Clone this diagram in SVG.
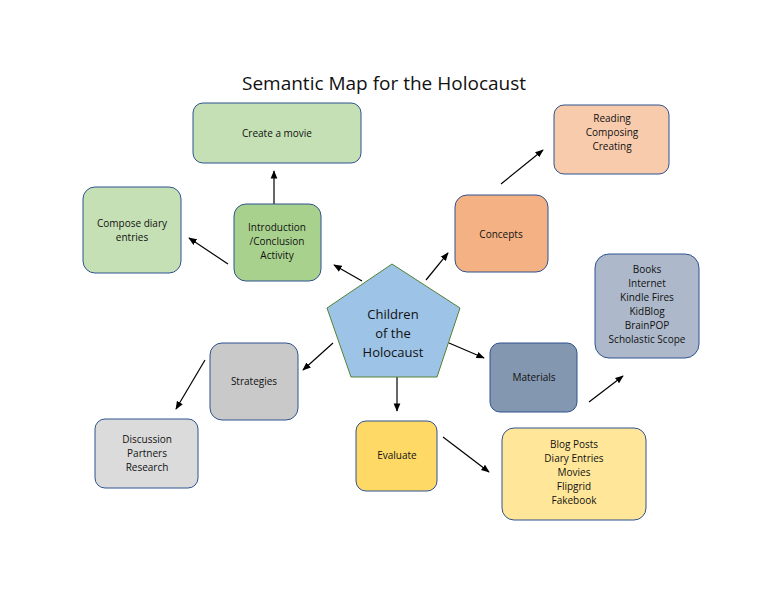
<svg xmlns="http://www.w3.org/2000/svg" width="768" height="594" viewBox="0 0 768 594">
<defs>
<marker id="a" viewBox="0 0 10 10" refX="9" refY="5" markerWidth="7" markerHeight="7" orient="auto-start-reverse"><path d="M0,1 L10,5 L0,9 z" fill="#000"/></marker>
<style>
.b{stroke:#2F528F;stroke-width:1}
.t{font-family:"Open Sans","Liberation Sans",sans-serif;font-size:10px;text-anchor:middle;fill:#111}
.c line{stroke:#000;stroke-width:1.2;marker-end:url(#a)}
</style>
</defs>
<rect width="768" height="594" fill="#fff"/>
<text x="384" y="90" style="font-family:'Open Sans','Liberation Sans',sans-serif;font-size:19px;text-anchor:middle" fill="#111">Semantic Map for the Holocaust</text>
<g class="c">
<line x1="274" y1="204" x2="274" y2="171"/>
<line x1="228" y1="264" x2="189" y2="238"/>
<line x1="362" y1="281" x2="334" y2="265"/>
<line x1="426" y1="280" x2="448" y2="253"/>
<line x1="501" y1="184" x2="543" y2="150"/>
<line x1="333" y1="343" x2="303" y2="370"/>
<line x1="205" y1="360" x2="176" y2="409"/>
<line x1="449" y1="343" x2="484" y2="358"/>
<line x1="589" y1="402" x2="623" y2="376"/>
<line x1="397" y1="377" x2="397" y2="411"/>
<line x1="443" y1="437" x2="489" y2="472"/>
</g>
<g id="movie"><rect class="b" x="193" y="103" width="168" height="60" rx="10" fill="#C5E0B4"/><text class="t" x="277" y="137">Create a movie</text></g>
<g id="diary"><rect class="b" x="83" y="187" width="98" height="86" rx="12" fill="#C5E0B4"/><text class="t" x="132" y="227">Compose diary</text><text class="t" x="132" y="241">entries</text></g>
<g id="intro"><rect class="b" x="234" y="204" width="87" height="77" rx="12" fill="#A9D18E"/><text class="t" x="277" y="231">Introduction</text><text class="t" x="277" y="245">/Conclusion</text><text class="t" x="277" y="259">Activity</text></g>
<g id="reading"><rect class="b" x="554" y="105" width="115" height="69" rx="10" fill="#F8CBAD"/><text class="t" x="612" y="122">Reading</text><text class="t" x="612" y="136">Composing</text><text class="t" x="612" y="150">Creating</text></g>
<g id="concepts"><rect class="b" x="455" y="195" width="93" height="77" rx="12" fill="#F4B183"/><text class="t" x="501" y="238">Concepts</text></g>
<g id="books"><rect class="b" x="595" y="254" width="104" height="104" rx="14" fill="#ADB9CA"/><text class="t" x="647" y="273">Books</text><text class="t" x="647" y="287">Internet</text><text class="t" x="647" y="301">Kindle Fires</text><text class="t" x="647" y="315">KidBlog</text><text class="t" x="647" y="329">BrainPOP</text><text class="t" x="647" y="343">Scholastic Scope</text></g>
<g id="center"><polygon points="392,264 460,308 437,377 351,377 327,308" fill="#9DC3E6" stroke="#548235" stroke-width="1"/>
<text class="t" x="393" y="319" style="font-size:13px">Children</text><text class="t" x="393" y="338" style="font-size:13px">of the</text><text class="t" x="393" y="357" style="font-size:13px">Holocaust</text></g>
<g id="strategies"><rect class="b" x="210" y="343" width="88" height="77" rx="12" fill="#C9C9C9"/><text class="t" x="254" y="385">Strategies</text></g>
<g id="discussion"><rect class="b" x="95" y="419" width="103" height="69" rx="10" fill="#DBDBDB"/><text class="t" x="147" y="443">Discussion</text><text class="t" x="147" y="457">Partners</text><text class="t" x="147" y="471">Research</text></g>
<g id="materials"><rect class="b" x="490" y="343" width="87" height="69" rx="10" fill="#8497B0"/><text class="t" x="534" y="381">Materials</text></g>
<g id="evaluate"><rect class="b" x="356" y="421" width="81" height="70" rx="10" fill="#FFD966"/><text class="t" x="397" y="459">Evaluate</text></g>
<g id="blog"><rect class="b" x="502" y="428" width="144" height="92" rx="12" fill="#FFE699"/><text class="t" x="574" y="448">Blog Posts</text><text class="t" x="574" y="462">Diary Entries</text><text class="t" x="574" y="476">Movies</text><text class="t" x="574" y="490">Flipgrid</text><text class="t" x="574" y="504">Fakebook</text></g>
</svg>
